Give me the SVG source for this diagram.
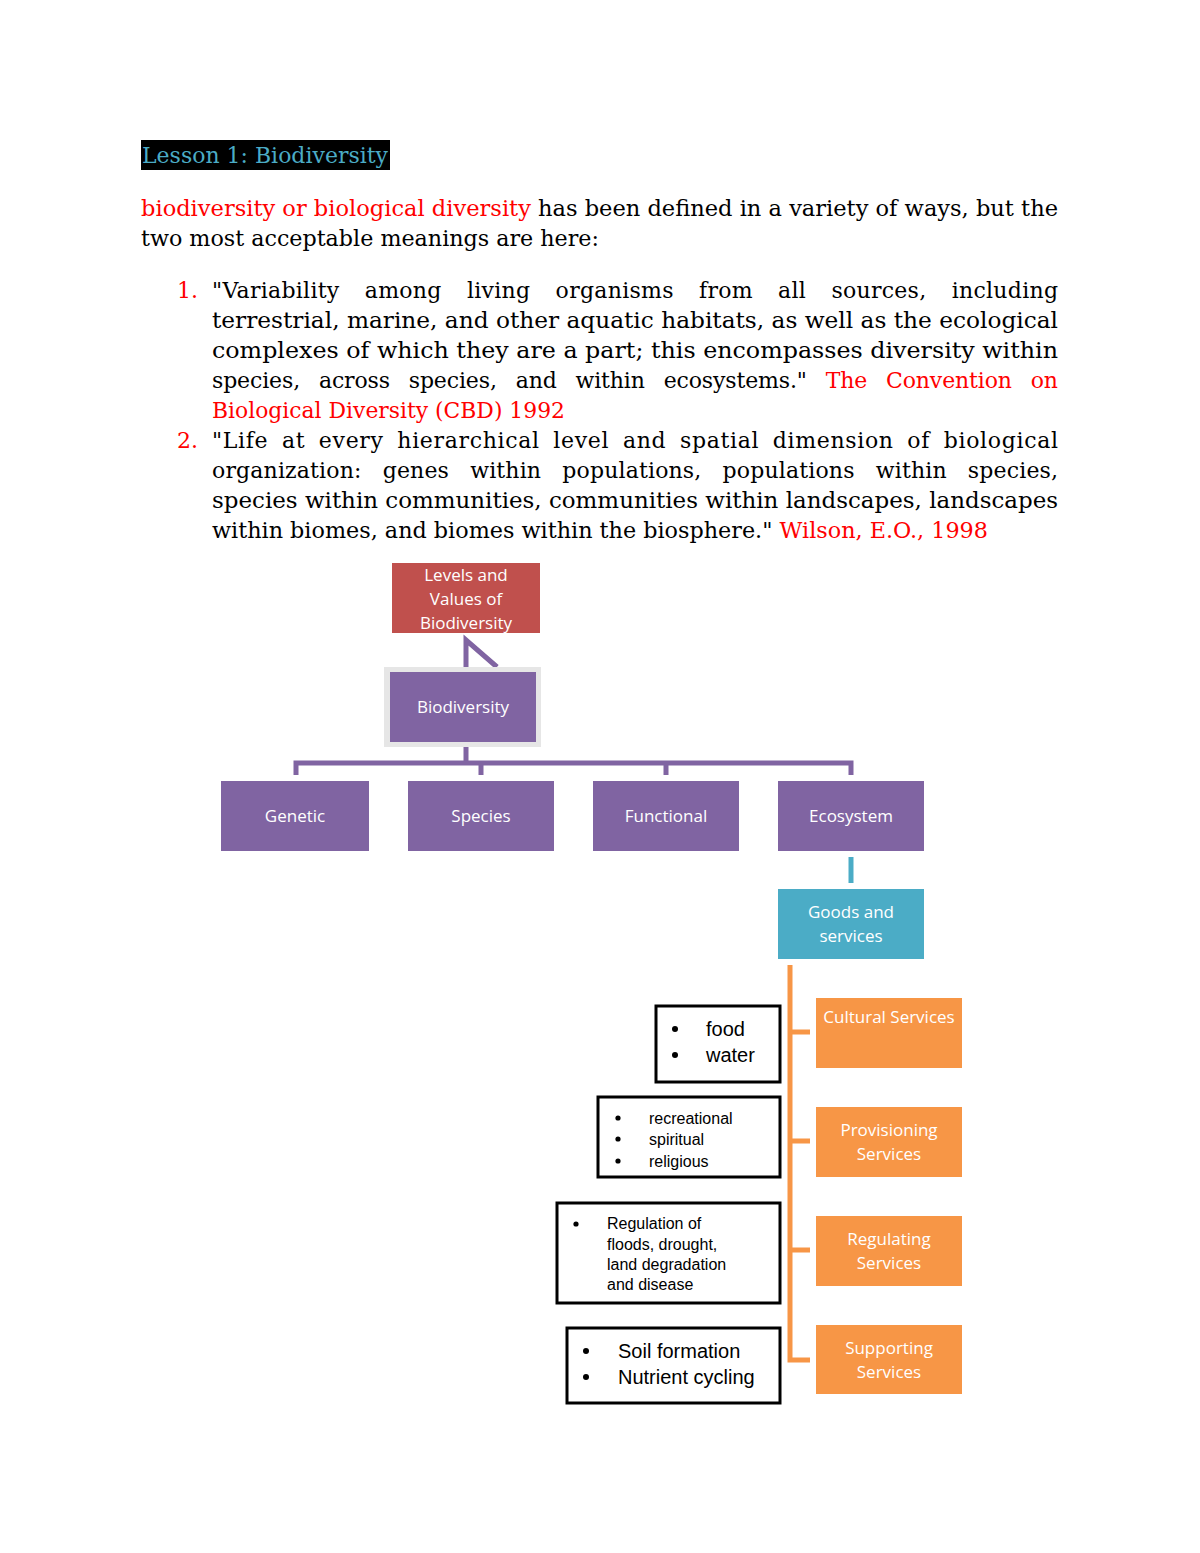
<svg xmlns="http://www.w3.org/2000/svg" width="1200" height="1553" viewBox="0 0 1200 1553">
<style>
.body{font-family:"DejaVu Serif","Liberation Serif",serif;font-size:22px;fill:#000}
.red{fill:#FF0000}
.node{font-family:"Open Sans","Liberation Sans",sans-serif;font-size:17px;fill:#fff;text-anchor:middle}
.purple{fill:#8064A2}
.bl{fill:#fff;stroke:#000;stroke-width:3}
.bt{font-family:"Liberation Sans",Arial,sans-serif;fill:#000}
.conP{stroke:#8064A2;stroke-width:5;fill:none}
.conT{stroke:#4BACC6;stroke-width:5;fill:none}
.conO{stroke:#F79646;stroke-width:5;fill:none}
.or{fill:#F79646}
</style>
<rect width="1200" height="1553" fill="#fff"/>
<g id="text">
<rect x="141" y="140" width="249" height="30" fill="#000"/>
<text x="142" y="163" class="body" style="fill:#4BACC6" textLength="246" lengthAdjust="spacingAndGlyphs">Lesson 1: Biodiversity</text>
<text x="141" y="216" class="body" textLength="917" lengthAdjust="spacingAndGlyphs"><tspan class="red">biodiversity or biological diversity</tspan> has been defined in a variety of ways, but the</text>
<text x="141" y="246" class="body" textLength="458" lengthAdjust="spacingAndGlyphs">two most acceptable meanings are here:</text>
<text x="177" y="298" class="body red">1.</text>
<text x="212" y="298" class="body" style="word-spacing:18px" textLength="846" lengthAdjust="spacing">"Variability among living organisms from all sources, including</text>
<text x="212" y="328" class="body" textLength="846" lengthAdjust="spacingAndGlyphs">terrestrial, marine, and other aquatic habitats, as well as the ecological</text>
<text x="212" y="358" class="body" textLength="846" lengthAdjust="spacingAndGlyphs">complexes of which they are a part; this encompasses diversity within</text>
<text x="212" y="388" class="body" style="word-spacing:12px" textLength="846" lengthAdjust="spacing">species, across species, and within ecosystems." <tspan class="red">The Convention on</tspan></text>
<text x="212" y="418" class="body red" textLength="353" lengthAdjust="spacingAndGlyphs">Biological Diversity (CBD) 1992</text>
<text x="177" y="448" class="body red">2.</text>
<text x="212" y="448" class="body" style="word-spacing:6px" textLength="846" lengthAdjust="spacing">"Life at every hierarchical level and spatial dimension of biological</text>
<text x="212" y="478" class="body" style="word-spacing:14px" textLength="846" lengthAdjust="spacing">organization: genes within populations, populations within species,</text>
<text x="212" y="508" class="body" textLength="846" lengthAdjust="spacingAndGlyphs">species within communities, communities within landscapes, landscapes</text>
<text x="212" y="538" class="body" textLength="776" lengthAdjust="spacingAndGlyphs">within biomes, and biomes within the biosphere." <tspan class="red">Wilson, E.O., 1998</tspan></text>
</g>
<g id="connectors">
<path class="conP" d="M466 668 V640 L497 667"/>
<path class="conP" d="M466 747 V763 M296 775 V763 H851 V775 M481 763 V775 M666 763 V775"/>
<path class="conT" d="M851 857 V883"/>
<path class="conO" d="M790 965 V1360 H810 M790 1032 H810 M790 1141 H810 M790 1250 H810"/>
</g>
<g id="levels-values">
<rect x="392" y="563" width="148" height="70" fill="#C0504D"/>
<text class="node" x="466" y="581">Levels and</text>
<text class="node" x="466" y="605">Values of</text>
<text class="node" x="466" y="629">Biodiversity</text>
</g>
<g id="biodiversity">
<rect x="384" y="667" width="157" height="80" fill="#E6E6E6"/>
<rect x="390" y="672" width="146" height="70" class="purple"/>
<text class="node" x="463" y="713">Biodiversity</text>
</g>
<g id="genetic">
<rect x="221" y="781" width="148" height="70" class="purple"/>
<text class="node" x="295" y="822">Genetic</text>
</g>
<g id="species">
<rect x="408" y="781" width="146" height="70" class="purple"/>
<text class="node" x="481" y="822">Species</text>
</g>
<g id="functional">
<rect x="593" y="781" width="146" height="70" class="purple"/>
<text class="node" x="666" y="822">Functional</text>
</g>
<g id="ecosystem">
<rect x="778" y="781" width="146" height="70" class="purple"/>
<text class="node" x="851" y="822">Ecosystem</text>
</g>
<g id="goods">
<rect x="778" y="889" width="146" height="70" fill="#4BACC6"/>
<text class="node" x="851" y="918">Goods and</text>
<text class="node" x="851" y="942">services</text>
</g>
<g id="cultural">
<rect x="816" y="998" width="146" height="70" class="or"/>
<text class="node" x="889" y="1023">Cultural Services</text>
</g>
<g id="provisioning">
<rect x="816" y="1107" width="146" height="70" class="or"/>
<text class="node" x="889" y="1136">Provisioning</text>
<text class="node" x="889" y="1160">Services</text>
</g>
<g id="regulating">
<rect x="816" y="1216" width="146" height="70" class="or"/>
<text class="node" x="889" y="1245">Regulating</text>
<text class="node" x="889" y="1269">Services</text>
</g>
<g id="supporting">
<rect x="816" y="1325" width="146" height="69" class="or"/>
<text class="node" x="889" y="1354">Supporting</text>
<text class="node" x="889" y="1378">Services</text>
</g>
<g id="box-food">
<rect x="656" y="1006" width="124" height="76" class="bl"/>
<g class="bt" style="font-size:20px">
<circle cx="675" cy="1029" r="3"/><text x="706" y="1036">food</text>
<circle cx="675" cy="1055" r="3"/><text x="706" y="1062">water</text>
</g>
</g>
<g id="box-recreational">
<rect x="598" y="1097" width="182" height="80" class="bl"/>
<g class="bt" style="font-size:16px">
<circle cx="618" cy="1118" r="2.6"/><text x="649" y="1124">recreational</text>
<circle cx="618" cy="1139" r="2.6"/><text x="649" y="1145">spiritual</text>
<circle cx="618" cy="1161" r="2.6"/><text x="649" y="1167">religious</text>
</g>
</g>
<g id="box-regulation">
<rect x="557" y="1203" width="223" height="100" class="bl"/>
<g class="bt" style="font-size:16px">
<circle cx="576" cy="1224" r="2.6"/>
<text x="607" y="1229">Regulation of</text>
<text x="607" y="1250">floods, drought,</text>
<text x="607" y="1270">land degradation</text>
<text x="607" y="1290">and disease</text>
</g>
</g>
<g id="box-soil">
<rect x="567" y="1328" width="213" height="75" class="bl"/>
<g class="bt" style="font-size:20px">
<circle cx="586" cy="1351" r="3"/><text x="618" y="1358">Soil formation</text>
<circle cx="586" cy="1377" r="3"/><text x="618" y="1384">Nutrient cycling</text>
</g>
</g>
</svg>
